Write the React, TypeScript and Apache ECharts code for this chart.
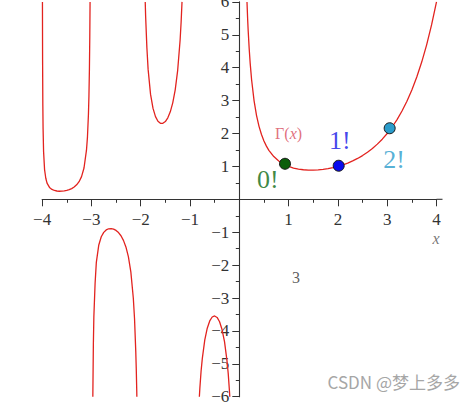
import React, { useEffect, useRef } from "react";
import * as echarts from "echarts";

// Γ(x) branches: [x, y]
const branchPos: number[][] = [
  [0.156, 6.0], [0.17, 5.451], [0.18, 5.132], [0.2, 4.591], [0.22, 4.148], [0.25, 3.626],
  [0.3, 2.992], [0.35, 2.546], [0.4, 2.218], [0.45, 1.968], [0.5, 1.772], [0.55, 1.616],
  [0.6, 1.489], [0.7, 1.298], [0.8, 1.164], [0.9, 1.069], [1.0, 1.0], [1.1, 0.951],
  [1.2, 0.918], [1.3, 0.898], [1.4, 0.887], [1.5, 0.886], [1.6, 0.894], [1.7, 0.909],
  [1.8, 0.931], [1.9, 0.962], [2.0, 1.0], [2.1, 1.047], [2.2, 1.102], [2.3, 1.167],
  [2.4, 1.242], [2.5, 1.329], [2.6, 1.430], [2.7, 1.545], [2.8, 1.677], [2.9, 1.827],
  [3.0, 2.0], [3.1, 2.198], [3.2, 2.424], [3.3, 2.683], [3.4, 2.981], [3.5, 3.323],
  [3.6, 3.717], [3.7, 4.171], [3.8, 4.694], [3.9, 5.299], [4.0, 6.0],
];
const branchM1: number[][] = [
  [-0.81, -6.0], [-0.8, -5.74], [-0.775, -5.22], [-0.75, -4.834], [-0.7, -4.274],
  [-0.65, -3.917], [-0.6, -3.697], [-0.55, -3.578], [-0.5, -3.545], [-0.45, -3.591],
  [-0.4, -3.723], [-0.35, -3.958], [-0.3, -4.327], [-0.25, -4.902], [-0.225, -5.29],
  [-0.2, -5.821], [-0.193, -6.0],
];
const branchM2: number[][] = [
  [-1.908, 6.0], [-1.9, 5.563], [-1.875, 4.62], [-1.85, 3.956], [-1.8, 3.188],
  [-1.75, 2.762], [-1.7, 2.514], [-1.65, 2.374], [-1.6, 2.311], [-1.55, 2.309],
  [-1.5, 2.363], [-1.45, 2.477], [-1.4, 2.659], [-1.35, 2.932], [-1.3, 3.328],
  [-1.25, 3.921], [-1.2, 4.851], [-1.18, 5.39], [-1.162, 6.0],
];
const branchM3: number[][] = [
  [-2.971, -6.0], [-2.96, -4.39], [-2.95, -3.563], [-2.925, -2.55], [-2.9, -1.918],
  [-2.85, -1.388], [-2.8, -1.139], [-2.75, -1.005], [-2.7, -0.931], [-2.65, -0.896],
  [-2.6, -0.889], [-2.55, -0.905], [-2.5, -0.945], [-2.45, -1.011], [-2.4, -1.108],
  [-2.35, -1.248], [-2.3, -1.447], [-2.25, -1.743], [-2.2, -2.205], [-2.15, -3.0],
  [-2.125, -3.63], [-2.1, -4.626], [-2.09, -5.15], [-2.08, -5.82], [-2.078, -6.0],
];
const branchM4: number[][] = [
  [-3.993, 6.0], [-3.99, 4.23], [-3.985, 2.85], [-3.98, 2.148], [-3.97, 1.45],
  [-3.95, 0.902], [-3.925, 0.64], [-3.9, 0.492], [-3.85, 0.361], [-3.8, 0.300],
  [-3.75, 0.268], [-3.7, 0.252], [-3.65, 0.245], [-3.6, 0.247], [-3.55, 0.255],
  [-3.5, 0.270], [-3.45, 0.293], [-3.4, 0.326], [-3.35, 0.372], [-3.3, 0.439],
  [-3.25, 0.536], [-3.2, 0.689], [-3.15, 0.952], [-3.1, 1.492], [-3.08, 1.891],
  [-3.06, 2.584], [-3.05, 3.142], [-3.04, 3.97], [-3.033, 4.9], [-3.027, 6.0],
];

// factorial points
const dotNames = ["0!", "1!", "2!"];
const dotX = [0.927, 2.016, 3.05];
const dotY = [1.08, 1.02, 2.16];
const dotColors = ["#0b5e0b", "#0a0aee", "#2a9ccb"];

// annotation texts
const noteTexts = ["0!", "1!", "2!", "Γ(", "3", ""];
const noteItalic = ["", "", "", "x", "", "x"];
const noteTail = ["", "", "", ")", "", ""];
const noteX = [0.58, 2.04, 3.14, 1.0, 1.15, 3.99];
const noteY = [0.59, 1.8, 1.22, 2.0, -2.37, -1.2];
const noteColors = ["#0d6a12", "#1414e6", "#2a9ccb", "#d84a5c", "#333333", "#555555"];
const noteSizes = [26, 26, 26, 16, 16, 16];

const xMin = -4, xMax = 4, yMin = -6, yMax = 6;

const SERIF = "Liberation Serif";
const RED = "#e2231f";

export default function App() {
  const ref = useRef<HTMLDivElement>(null);
  useEffect(() => {
    if (!ref.current) return;
    const chart = echarts.init(ref.current, null, { renderer: "svg" });
    const fmt = (v: number) => (v === 0 ? "" : String(v).replace("-", "\u2212"));
    const axisCommon = {
      type: "value" as const,
      interval: 1,
      axisTick: { show: true, length: 7, lineStyle: { color: "#333" } },
      minorTick: { show: true, splitNumber: 2, length: 3.5, lineStyle: { color: "#333" } },
      splitLine: { show: false },
      minorSplitLine: { show: false },
    };
    const labelCommon = {
      formatter: fmt,
      fontFamily: SERIF,
      fontSize: 17,
      color: "#333",
      showMinLabel: true,
      showMaxLabel: true,
    };
    const lineSeries = (data: number[][]) => ({
      type: "line",
      data,
      showSymbol: false,
      symbol: "none",
      smooth: false,
      lineStyle: { color: RED, width: 1.3 },
      z: 3,
      silent: true,
    });
    const option: any = {
      animation: false,
      backgroundColor: "#ffffff",
      grid: {
        left: 42.1,
        right: 39.5,
        top: 1.9,
        bottom: 5.3,
        containLabel: false,
        outerBoundsMode: "none",
      },
      xAxis: {
        ...axisCommon,
        min: xMin,
        max: xMax,
        position: "bottom",
        offset: 0,
        axisLine: { onZero: false, lineStyle: { color: "#333", width: 1.1 } },
        axisLabel: { ...labelCommon, margin: 12 },
      },
      yAxis: {
        ...axisCommon,
        min: yMin,
        max: yMax,
        position: "left",
        offset: 0,
        axisLine: { onZero: false, lineStyle: { color: "#333", width: 1.1 } },
        axisLabel: { ...labelCommon, margin: 10 },
      },
      series: [
        lineSeries(branchPos),
        lineSeries(branchM1),
        lineSeries(branchM2),
        lineSeries(branchM3),
        lineSeries(branchM4),
        {
          type: "scatter",
          symbolSize: 11,
          z: 5,
          silent: true,
          data: dotX.map((x, i) => ({
            name: dotNames[i],
            value: [x, dotY[i]],
            itemStyle: { color: dotColors[i], borderColor: "#1a1a1a", borderWidth: 1, opacity: 1 },
          })),
        },
        {
          type: "scatter",
          symbolSize: 1,
          z: 6,
          silent: true,
          itemStyle: { color: "rgba(0,0,0,0)" },
          data: noteX.map((x, i) => ({
            value: [x, noteY[i]],
            label: {
              show: true,
              position: "inside",
              formatter:
                (noteTexts[i] ? "{a|" + noteTexts[i] + "}" : "") +
                (noteItalic[i] ? "{b|" + noteItalic[i] + "}" : "") +
                (noteTail[i] ? "{a|" + noteTail[i] + "}" : ""),
              color: noteColors[i],
              fontSize: noteSizes[i],
              fontFamily: SERIF,
              rich: {
                a: { color: noteColors[i], fontSize: noteSizes[i], fontFamily: SERIF },
                b: { color: noteColors[i], fontSize: noteSizes[i], fontFamily: SERIF, fontStyle: "italic" },
              },
            },
          })),
        },
      ],
    };
    chart.setOption(option);
    const pZero = chart.convertToPixel({ gridIndex: 0 }, [0, 0]) as number[];
    const pCorner = chart.convertToPixel({ gridIndex: 0 }, [xMin, yMin]) as number[];
    const pEnd = chart.convertToPixel({ gridIndex: 0 }, [xMax, 0]) as number[];
    chart.setOption({
      xAxis: { offset: -(pCorner[1] - pZero[1]) },
      yAxis: { offset: -(pZero[0] - pCorner[0]) },
      graphic: [
        {
          type: "line",
          shape: { x1: pEnd[0], y1: pEnd[1], x2: pEnd[0] + 6, y2: pEnd[1] },
          style: { stroke: "#333", lineWidth: 1.1 },
          silent: true,
        },
        {
          type: "text",
          right: 16,
          top: 373,
          style: {
            text: "CSDN @梦上多多",
            fontSize: 17,
            fontFamily: "Noto Sans CJK SC",
            fill: "#a6a6a6",
          },
          silent: true,
        },
      ],
    });
    return () => chart.dispose();
  }, []);
  return (
    <div
      ref={ref}
      style={{ position: "fixed", left: 0, top: 0, width: 476, height: 402 }}
    />
  );
}
